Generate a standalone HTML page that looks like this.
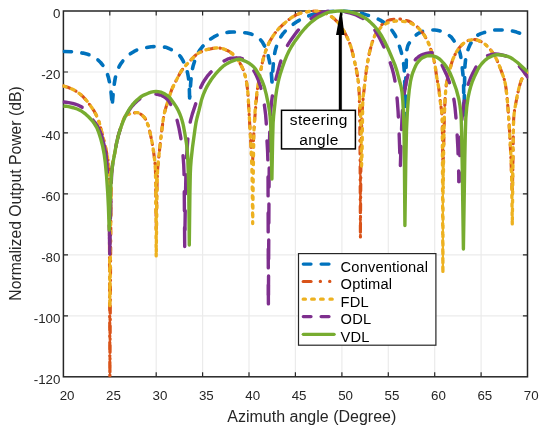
<!DOCTYPE html>
<html lang="en"><head><meta charset="utf-8"><title>Normalized Output Power vs Azimuth angle</title>
<style>html,body{margin:0;padding:0;background:#fff}body{width:550px;height:436px;overflow:hidden}svg{display:block}text{font-family:"Liberation Sans",sans-serif;fill:#262626}</style></head><body>
<svg width="550" height="436" viewBox="0 0 550 436">
<rect width="550" height="436" fill="#fff"/>
<path d="M109.8,11.0V376.8M156.2,11.0V376.8M202.6,11.0V376.8M249.0,11.0V376.8M295.4,11.0V376.8M341.9,11.0V376.8M388.3,11.0V376.8M434.7,11.0V376.8M481.1,11.0V376.8M63.4,72.0H527.5M63.4,132.9H527.5M63.4,193.9H527.5M63.4,254.9H527.5M63.4,315.8H527.5" stroke="#ebebeb" stroke-width="1.2" fill="none"/>
<path d="M109.8,376.8v-4.6M109.8,11.0v4.6M156.2,376.8v-4.6M156.2,11.0v4.6M202.6,376.8v-4.6M202.6,11.0v4.6M249.0,376.8v-4.6M249.0,11.0v4.6M295.4,376.8v-4.6M295.4,11.0v4.6M341.9,376.8v-4.6M341.9,11.0v4.6M388.3,376.8v-4.6M388.3,11.0v4.6M434.7,376.8v-4.6M434.7,11.0v4.6M481.1,376.8v-4.6M481.1,11.0v4.6M63.4,72.0h4.6M527.5,72.0h-4.6M63.4,132.9h4.6M527.5,132.9h-4.6M63.4,193.9h4.6M527.5,193.9h-4.6M63.4,254.9h4.6M527.5,254.9h-4.6M63.4,315.8h4.6M527.5,315.8h-4.6" stroke="#262626" stroke-width="1.2" fill="none"/>
<rect x="63.4" y="11.0" width="464.1" height="365.8" fill="none" stroke="#262626" stroke-width="1.5"/>
<defs><clipPath id="c"><rect x="62.6" y="9.3" width="465.7" height="368.2"/></clipPath></defs>
<g clip-path="url(#c)" fill="none" stroke-linejoin="round">
<path d="M63.4,51.4 L72.0,51.8 L77.9,52.3 L83.0,53.1 L87.7,54.3 L91.0,55.4 L93.9,57.0 L98.0,60.0 L100.6,62.5 L103.1,65.6 L105.2,69.1 L106.9,72.8 L108.4,77.4 L109.6,82.6 L110.8,90.0 L111.4,95.4 L112.2,105.0" stroke="#0072BD" stroke-width="3.6" stroke-dasharray="7.4 10.4" stroke-dashoffset="17.1" stroke-linecap="round"/>
<path d="M112.2,105.0 L113.5,90.0 L114.4,83.1 L115.3,77.9 L116.5,73.4 L117.9,69.3 L119.3,66.2 L121.1,63.3 L123.8,59.7 L126.8,56.5 L129.8,54.1 L134.1,51.4 L137.0,50.0 L139.8,49.1 L146.3,47.5 L151.2,46.7 L154.9,46.6 L161.1,46.8 L164.6,47.1 L166.8,47.6 L168.9,48.5 L172.1,50.1 L175.2,51.8 L178.3,54.3 L179.8,55.8 L180.8,57.0 L182.8,60.2 L185.0,65.0 L186.6,69.3 L187.7,73.5 L188.5,78.0 L189.0,82.7 L189.3,87.0 L189.6,98.0" stroke="#0072BD" stroke-width="3.6" stroke-dasharray="7.4 10.4" stroke-dashoffset="14.8" stroke-linecap="round"/>
<path d="M189.6,98.0 L190.8,81.6 L191.5,74.6 L192.1,70.4 L193.1,66.0 L194.6,61.2 L196.3,56.6 L197.9,53.2 L200.0,49.8 L202.5,46.6 L206.4,42.5 L209.9,39.4 L213.8,36.9 L217.9,34.8 L220.9,33.7 L224.8,32.8 L229.2,32.1 L233.0,32.0 L241.3,32.4 L244.8,32.7 L247.2,33.0 L251.1,34.0 L254.8,35.4 L256.1,36.1 L257.8,37.3 L260.4,39.6 L262.4,42.1 L264.3,45.5 L266.5,50.5 L268.2,55.7 L269.5,61.4 L270.7,68.2 L271.4,74.0 L272.0,82.0" stroke="#0072BD" stroke-width="3.6" stroke-dasharray="7.4 10.4" stroke-dashoffset="6.0" stroke-linecap="round"/>
<path d="M272.0,82.0 L272.9,69.3 L273.9,57.7 L274.5,54.1 L275.2,50.8 L276.0,47.9 L277.0,45.0 L278.3,41.7 L279.7,38.8 L281.2,36.2 L282.8,33.9 L284.6,31.8 L286.7,29.7 L290.3,26.5 L293.0,24.4 L296.0,22.3 L299.1,20.4 L302.8,18.3 L306.2,16.7 L310.3,15.2 L314.1,13.9 L317.0,13.2 L320.6,12.6 L325.1,11.9 L329.4,11.5 L336.9,11.1 L342.1,11.0 L346.6,11.3 L353.9,12.0 L358.5,12.7 L362.3,13.5 L367.3,15.1 L376.2,18.2 L380.2,20.1 L383.4,22.1 L385.5,23.8 L387.6,25.6 L389.5,27.5 L391.2,29.4 L392.9,31.7 L394.4,34.0 L395.5,35.9 L396.5,38.2 L399.7,47.0 L401.3,52.2 L402.9,59.0 L403.8,65.1 L404.4,72.4 L404.8,85.0 L405.0,117.0" stroke="#0072BD" stroke-width="3.6" stroke-dasharray="7.4 10.4" stroke-dashoffset="7.0" stroke-linecap="round"/>
<path d="M405.0,117.0 L405.7,80.6 L406.3,61.5 L406.9,49.7 L407.7,46.2 L408.2,44.9 L408.8,43.8 L412.5,38.4 L414.9,35.9 L417.8,33.8 L420.7,32.1 L423.2,31.2 L428.1,30.4 L432.6,30.0 L434.8,30.0 L436.9,30.2 L439.3,30.7 L442.5,31.5 L444.0,32.1 L445.5,32.9 L448.8,35.1 L450.3,36.3 L451.3,37.2 L453.7,40.3 L457.3,46.2 L458.3,48.2 L459.1,50.2 L460.2,53.8 L461.0,58.0 L462.0,65.4 L463.1,75.7 L463.6,85.0 L464.0,115.0" stroke="#0072BD" stroke-width="3.6" stroke-dasharray="7.4 10.4" stroke-dashoffset="3.9" stroke-linecap="round"/>
<path d="M464.0,115.0 L464.8,69.6 L465.0,65.0 L465.5,60.2 L465.9,57.5 L466.5,54.8 L467.7,50.6 L468.8,47.5 L469.8,45.2 L470.8,43.3 L472.4,40.8 L474.0,38.7 L475.6,36.9 L477.1,35.6 L478.7,34.6 L480.8,33.6 L483.9,32.6 L490.4,30.8 L493.1,30.2 L495.4,30.0 L506.4,30.0 L509.9,30.4 L516.5,32.1 L519.2,33.0 L523.4,34.6 L527.5,36.5" stroke="#0072BD" stroke-width="3.6" stroke-dasharray="7.4 10.4" stroke-dashoffset="5.5" stroke-linecap="round"/>
<path d="M63.4,86.0 L67.7,87.2 L72.8,89.4 L76.5,91.5 L80.3,94.2 L83.5,97.2 L86.8,100.9 L90.8,106.1 L93.8,110.6 L95.7,114.0 L97.4,117.6 L98.6,120.6 L99.7,124.1 L105.2,145.8 L106.2,150.5 L107.9,159.8 L108.4,163.6 L108.8,168.6 L109.0,172.0 L109.1,177.6 L109.4,230.5 L109.9,376.8 L110.8,228.5 L111.1,193.9 L111.4,174.4 L111.8,168.7 L112.6,162.8 L114.2,156.0 L116.9,141.4 L118.2,136.1 L119.5,131.6 L122.9,121.1 L123.8,118.8 L124.7,116.9 L125.4,115.9 L126.0,115.3 L127.5,114.5 L129.3,114.0 L133.5,113.0 L136.2,112.6 L137.9,112.7 L139.6,113.4 L141.9,115.0 L144.5,117.6 L146.0,120.1 L147.7,124.2 L148.6,126.8 L149.6,130.6 L152.1,142.5 L153.6,151.9 L154.6,159.6 L155.0,163.6 L155.4,169.9 L155.6,175.5 L156.2,228.7 L157.1,183.3 L157.4,174.1 L157.8,167.2 L159.8,147.3 L162.1,127.9 L163.4,118.4 L164.5,112.7 L166.1,106.9 L170.1,94.3 L171.7,89.7 L174.0,84.6 L180.1,73.1 L182.2,69.7 L185.2,66.0 L194.2,56.5 L197.1,54.0 L199.5,52.6 L202.4,51.1 L205.0,50.1 L207.5,49.4 L212.5,48.4 L216.0,48.0 L218.9,47.9 L221.5,48.4 L224.4,49.3 L228.4,51.0 L230.1,52.0 L232.0,53.4 L234.7,56.0 L237.1,58.7 L239.0,61.5 L241.0,65.0 L243.3,69.9 L245.1,75.4 L246.3,80.8 L247.4,88.2 L247.8,92.1 L248.3,99.3 L251.4,154.0 L251.9,158.7 L252.3,159.6 L252.7,160.0 L253.7,135.5 L254.8,118.0 L256.4,98.8 L257.3,90.4 L258.2,83.6 L259.8,74.6 L262.4,62.4 L263.7,57.0 L265.2,52.3 L266.9,47.7 L268.6,43.8 L270.4,40.3 L272.9,36.1 L275.7,32.3 L278.9,28.5 L282.2,25.3 L288.6,19.9 L292.0,17.3 L293.5,16.4 L295.7,15.2 L300.0,13.3 L303.4,12.3 L309.3,11.3 L313.4,11.0 L316.9,11.2 L321.1,11.9 L325.4,13.1 L328.3,14.5 L332.1,17.1 L334.3,18.8 L336.6,21.1 L339.0,23.8 L341.1,26.5 L343.0,29.5 L345.0,33.1 L347.2,37.4 L348.9,41.3 L351.1,47.3 L352.6,53.0 L356.1,68.1 L358.2,80.2 L358.8,86.2 L359.2,93.2 L359.8,122.4 L360.1,160.4 L360.4,237.6 L360.9,165.0 L361.2,140.0 L362.0,115.2 L362.5,106.5 L363.2,97.8 L365.5,76.9 L366.6,68.6 L368.4,57.7 L370.0,50.2 L372.4,41.9 L373.7,38.3 L374.9,35.4 L376.9,31.7 L378.9,28.4 L380.5,26.2 L381.9,24.7 L385.1,22.2 L387.8,20.6 L389.8,19.9 L393.9,19.2 L397.4,18.9 L400.3,19.1 L403.9,19.8 L408.3,21.0 L411.3,22.5 L415.1,25.1 L417.3,26.9 L419.6,29.2 L422.2,32.3 L424.3,35.2 L426.5,39.0 L428.5,43.1 L430.4,48.0 L432.4,54.3 L433.8,59.5 L435.0,65.0 L436.9,78.4 L438.8,88.3 L440.6,103.9 L441.5,110.3 L441.9,114.5 L442.3,121.0 L442.8,162.0 L442.9,165.0 L443.1,164.0 L443.3,157.7 L443.7,146.7 L444.5,112.0 L445.1,99.0 L445.7,89.9 L446.3,84.8 L447.2,79.9 L451.4,63.8 L452.4,60.6 L453.3,58.3 L454.7,55.2 L456.1,52.5 L457.6,50.1 L459.6,47.4 L461.4,45.3 L463.0,43.8 L465.3,42.1 L467.3,40.9 L468.7,40.4 L471.2,39.8 L473.2,39.5 L474.9,39.6 L476.7,39.9 L478.8,40.7 L481.4,41.8 L482.7,42.5 L484.4,43.7 L486.3,45.3 L488.7,47.7 L490.3,49.5 L492.1,51.9 L493.9,54.6 L496.6,59.4 L499.2,65.4 L503.5,76.9 L504.4,79.9 L505.2,83.2 L506.1,88.8 L507.1,97.7 L508.1,109.5 L509.2,125.3 L510.6,151.3 L512.3,193.0 L512.8,172.0 L513.5,122.9 L513.7,118.5 L514.3,112.0 L514.8,108.7 L517.6,93.9 L519.2,87.1 L520.7,81.8 L521.9,78.9 L523.6,76.0 L525.6,73.7 L526.6,72.9 L527.5,72.3" stroke="#D95319" stroke-width="3.1" stroke-dasharray="7 6 0.6 6" stroke-linecap="round"/>
<path d="M109.9,300V376.8M360.4,160V237.6" stroke="#D95319" stroke-width="2.4" stroke-dasharray="9 1.6 3 1.2" fill="none"/>
<path d="M63.4,86.0 L67.5,87.2 L72.5,89.2 L75.9,91.1 L79.4,93.5 L82.3,96.0 L85.4,99.2 L88.7,103.3 L92.1,108.0 L94.1,111.1 L95.9,114.4 L97.6,118.1 L98.8,121.2 L100.9,128.5 L105.8,148.5 L108.1,161.2 L108.6,166.0 L109.0,172.0 L109.4,211.5 L109.9,307.5 L110.9,201.8 L111.2,181.7 L111.5,172.0 L112.0,167.0 L112.6,162.9 L114.2,156.1 L116.3,144.4 L117.7,138.1 L119.4,131.9 L122.7,121.7 L124.2,117.9 L124.9,116.6 L125.5,115.7 L126.7,114.9 L128.5,114.2 L132.8,113.1 L135.4,112.7 L137.1,112.6 L138.1,112.7 L139.4,113.3 L140.7,114.1 L142.3,115.4 L144.2,117.2 L145.0,118.3 L145.9,119.9 L147.2,122.9 L148.4,126.2 L149.3,129.4 L150.3,133.7 L152.1,142.5 L153.4,150.5 L154.8,161.2 L155.4,169.8 L155.7,184.8 L156.2,256.7 L157.0,193.0 L157.3,177.9 L157.6,170.1 L158.2,162.2 L160.7,139.5 L163.0,121.0 L163.7,116.6 L164.5,112.7 L166.2,106.6 L170.2,94.0 L171.9,89.2 L174.4,83.9 L179.7,73.8 L181.5,70.7 L183.4,68.1 L185.6,65.6 L193.8,57.0 L195.8,55.0 L197.5,53.7 L199.6,52.5 L202.3,51.2 L204.9,50.2 L207.6,49.4 L212.8,48.4 L216.0,48.0 L218.7,47.9 L220.9,48.2 L223.4,48.9 L228.0,50.8 L229.6,51.7 L231.8,53.3 L234.3,55.6 L236.6,58.1 L238.5,60.7 L240.5,64.1 L242.6,68.3 L243.9,71.5 L245.1,75.4 L245.9,78.7 L246.7,83.1 L247.5,89.0 L247.9,93.2 L248.6,103.7 L251.2,150.4 L251.7,162.4 L252.1,176.4 L252.7,223.6 L253.5,154.8 L253.8,136.9 L254.1,127.8 L255.0,111.8 L256.0,100.0 L256.8,93.3 L258.2,83.6 L259.5,76.1 L262.6,61.5 L264.1,55.7 L265.7,50.9 L267.3,46.7 L269.0,42.9 L270.8,39.6 L272.8,36.3 L275.0,33.2 L277.4,30.2 L279.9,27.5 L283.3,24.3 L288.7,19.8 L291.5,17.6 L293.8,16.2 L298.2,14.1 L301.8,12.7 L305.9,11.9 L310.8,11.2 L314.3,11.0 L317.5,11.2 L322.0,12.1 L324.3,12.7 L325.7,13.2 L328.7,14.8 L332.8,17.6 L335.5,20.0 L338.3,22.9 L340.7,25.9 L342.8,29.1 L345.3,33.6 L347.9,39.0 L349.4,42.5 L350.8,46.4 L351.7,49.4 L352.7,53.4 L356.4,69.7 L357.6,76.8 L358.5,83.8 L359.7,98.2 L360.6,117.3 L361.1,134.7 L361.5,166.0 L361.8,161.3 L362.1,149.7 L362.7,103.6 L363.0,98.5 L363.4,94.5 L364.1,89.9 L365.6,76.1 L366.6,68.6 L368.2,58.7 L369.8,51.0 L372.1,42.6 L373.1,39.6 L374.1,37.2 L374.9,35.7 L378.1,30.9 L380.7,27.5 L381.9,26.4 L384.2,24.7 L386.2,23.6 L388.1,22.7 L389.8,22.2 L393.1,21.5 L395.4,21.1 L397.5,20.9 L401.0,21.1 L405.1,21.6 L408.1,22.2 L410.6,23.1 L413.8,24.8 L416.6,26.6 L419.1,28.8 L421.8,31.8 L423.7,34.3 L425.6,37.3 L427.7,41.4 L429.2,44.8 L430.9,49.5 L432.8,55.7 L434.0,60.3 L435.1,65.5 L436.9,78.4 L438.4,85.8 L439.0,89.8 L440.6,103.9 L441.6,110.5 L442.0,115.3 L442.3,121.0 L442.9,273.5 L443.1,164.0 L443.3,188.2 L443.7,143.4 L444.4,114.6 L445.1,99.0 L445.8,88.8 L446.5,83.5 L447.4,79.0 L451.2,64.5 L452.2,61.2 L453.1,58.8 L455.4,53.8 L456.7,51.5 L458.0,49.6 L459.8,47.2 L461.4,45.3 L462.9,43.8 L464.5,42.6 L466.8,41.2 L468.8,40.4 L472.5,39.6 L473.9,39.5 L475.1,39.6 L477.9,40.3 L481.9,42.0 L484.1,43.5 L486.6,45.6 L489.3,48.4 L491.5,51.1 L493.9,54.6 L496.2,58.6 L497.9,62.2 L499.9,67.2 L503.2,76.1 L504.5,80.3 L505.3,83.7 L505.9,87.3 L507.3,99.8 L508.7,117.7 L510.5,146.4 L511.1,159.8 L511.6,176.0 L512.3,224.9 L513.3,132.5 L513.6,120.0 L514.1,113.8 L514.7,109.3 L517.4,94.9 L518.8,88.7 L520.6,82.1 L521.8,79.1 L523.6,76.0 L525.6,73.7 L526.6,72.9 L527.5,72.3" stroke="#EDB120" stroke-width="3.3" stroke-dasharray="2.7 6.0" stroke-linecap="round"/>
<path d="M156.2,172V252M442.9,168V270M512.3,172V196M109.9,256V305" stroke="#EDB120" stroke-width="2.2" fill="none"/>
<path d="M63.4,102.0 L65.9,102.2 L68.7,102.6 L72.6,103.3 L75.2,104.1 L77.8,105.0 L80.3,106.2 L83.1,107.9 L84.4,108.9 L85.8,110.4 L87.4,112.4 L94.8,122.5 L96.9,125.7 L98.4,128.4 L99.8,131.4 L101.1,134.7 L102.4,138.7 L103.4,142.2 L104.3,145.9 L105.8,154.4 L106.9,164.6 L108.2,181.6 L108.7,191.5 L109.1,204.2 L109.7,254.0" stroke="#7E2F8E" stroke-width="3.4" stroke-dasharray="19.0 17.0" stroke-dashoffset="35.3" stroke-linecap="round"/>
<path d="M109.7,254.0 L110.8,199.9 L111.3,182.2 L111.7,173.3 L112.3,167.1 L113.0,162.2 L116.4,143.8 L118.4,135.3 L119.6,131.2 L121.2,126.6 L122.9,122.1 L124.5,118.5 L126.0,115.5 L128.3,111.5 L130.3,108.5 L132.2,106.0 L134.0,104.0 L137.2,101.0 L139.5,99.1 L141.7,97.6 L143.7,96.6 L147.7,95.2 L150.3,94.5 L152.6,94.1 L154.5,94.0 L156.5,94.2 L160.0,95.0 L161.6,95.5 L163.3,96.4 L165.1,97.5 L167.0,99.1 L168.5,100.6 L169.7,102.5 L171.9,106.8 L173.4,110.0 L174.8,113.5 L177.2,120.7 L179.0,128.1 L180.6,136.6 L182.0,145.7 L182.9,153.9 L183.7,164.5 L184.0,172.0 L184.2,184.0 L184.7,246.5" stroke="#7E2F8E" stroke-width="3.4" stroke-dasharray="19.0 17.0" stroke-dashoffset="0.5" stroke-linecap="round"/>
<path d="M184.7,246.5 L185.4,198.9 L185.9,175.1 L186.8,153.6 L187.9,138.0 L189.1,128.0 L189.8,124.0 L190.7,119.9 L192.3,114.1 L195.9,103.3 L199.2,91.3 L200.6,87.6 L202.6,83.4 L204.7,79.9 L207.3,76.2 L209.8,73.3 L212.9,70.1 L217.9,65.4 L221.4,62.6 L223.5,61.3 L227.5,59.2 L229.4,58.5 L231.1,58.1 L240.5,58.0 L242.1,58.5 L244.0,59.7 L248.2,63.1 L249.7,64.7 L251.3,66.8 L253.3,69.9 L255.1,72.9 L256.6,76.0 L258.0,79.3 L260.4,86.3 L262.2,93.5 L263.3,99.0 L264.5,106.0 L265.6,114.5 L266.2,122.1 L267.0,141.0 L267.6,151.4 L268.0,165.0 L268.4,306.0" stroke="#7E2F8E" stroke-width="3.4" stroke-dasharray="19.0 17.0" stroke-dashoffset="19.3" stroke-linecap="round"/>
<path d="M268.4,306.0 L269.0,192.8 L269.4,145.1 L269.7,133.5 L270.3,118.7 L270.9,109.0 L271.6,101.7 L272.3,96.2 L273.1,91.3 L275.7,79.8 L280.0,63.6 L282.4,56.6 L284.0,52.7 L285.6,49.2 L287.3,45.8 L289.0,42.9 L291.3,39.4 L295.4,33.7 L297.6,30.9 L299.9,28.4 L304.7,23.7 L309.7,19.6 L314.0,16.6 L319.0,13.8 L323.9,12.1 L327.9,11.2 L331.3,10.9 L338.3,10.8 L340.3,10.9 L342.7,11.3 L347.3,12.3 L350.5,13.1 L356.0,15.0 L361.4,17.6 L364.9,19.6 L367.6,21.8 L370.9,25.2 L374.7,29.9 L377.4,34.1 L380.3,39.4 L384.4,47.9 L387.2,54.3 L389.4,60.2 L392.2,68.8 L393.6,74.1 L394.8,79.9 L395.7,85.5 L396.5,92.3 L397.3,100.9 L398.1,111.5 L399.1,132.5 L400.3,167.6" stroke="#7E2F8E" stroke-width="3.4" stroke-dasharray="19.0 17.0" stroke-dashoffset="24.9" stroke-linecap="round"/>
<path d="M400.3,167.6 L401.6,127.6 L402.1,116.4 L402.6,108.7 L403.5,99.4 L404.5,92.1 L406.1,82.9 L407.7,76.0 L410.0,69.0 L412.1,64.0 L413.7,61.4 L416.4,58.5 L418.0,57.2 L419.7,56.0 L421.4,55.0 L423.1,54.3 L426.3,53.4 L429.0,52.9 L431.5,52.6 L433.0,52.7 L434.7,53.4 L436.7,54.8 L438.2,56.2 L439.2,57.9 L441.9,64.8 L446.3,74.2 L448.4,79.3 L451.3,87.9 L452.3,91.7 L453.2,95.7 L454.3,101.9 L455.1,108.3 L456.0,118.0 L456.8,128.8 L457.9,148.4 L459.0,181.6" stroke="#7E2F8E" stroke-width="3.4" stroke-dasharray="19.0 17.0" stroke-dashoffset="33.9" stroke-linecap="round"/>
<path d="M459.0,181.6 L460.1,148.5 L460.9,131.4 L461.6,122.6 L462.4,114.6 L463.2,108.2 L464.2,101.7 L465.3,95.7 L466.5,90.3 L467.7,85.9 L469.3,81.3 L471.0,77.0 L473.0,72.7 L477.7,63.8 L479.3,61.1 L480.2,59.8 L481.0,59.0 L482.6,57.7 L484.2,56.8 L485.5,56.2 L487.3,55.6 L491.9,54.4 L495.1,54.0 L498.2,54.1 L501.7,54.8 L506.0,56.0 L507.5,56.7 L509.2,57.8 L514.8,62.2 L517.8,64.8 L520.2,67.3 L522.6,70.2 L525.0,73.4 L527.5,77.0" stroke="#7E2F8E" stroke-width="3.4" stroke-dasharray="19.0 17.0" stroke-dashoffset="10.0" stroke-linecap="round"/>
<path d="M94.8,122.5 L96.9,125.7 L98.4,128.4 L99.8,131.4 L101.1,134.7 L102.4,138.7 L103.4,142.2 L104.3,145.9 L105.8,154.4 L106.9,164.6" stroke="#7E2F8E" stroke-width="3.4" stroke-linecap="round"/>
<path d="M63.4,106.0 L65.8,106.2 L68.5,106.7 L72.3,107.5 L74.6,108.1 L77.2,109.0 L79.8,110.2 L81.5,111.1 L83.3,112.3 L85.7,114.2 L88.5,116.8 L90.9,119.3 L92.8,121.5 L94.6,124.0 L96.3,126.8 L97.3,128.8 L98.4,131.6 L100.8,139.0 L102.7,146.4 L104.3,155.0 L105.3,162.8 L106.6,176.7 L107.7,192.6 L108.4,206.7 L109.2,230.0 L109.9,207.7 L110.7,188.6 L111.4,175.7 L112.0,169.2 L112.9,163.0 L116.8,141.9 L118.9,133.6 L121.3,126.2 L123.0,121.6 L124.7,117.7 L126.3,114.4 L128.5,110.5 L130.5,107.4 L132.5,104.7 L134.2,102.8 L137.0,100.0 L139.7,97.7 L142.1,96.0 L143.8,95.1 L148.3,93.2 L151.2,92.2 L153.8,91.6 L156.1,91.4 L158.3,91.6 L160.9,92.2 L163.0,93.0 L165.4,94.3 L168.0,96.0 L169.0,96.9 L170.1,98.1 L173.7,103.0 L175.5,105.6 L177.0,108.1 L178.4,110.8 L179.7,113.7 L180.9,116.8 L182.1,120.6 L182.9,123.5 L183.7,127.2 L184.8,133.2 L186.5,143.7 L187.2,150.0 L187.7,157.1 L188.4,177.3 L188.8,194.1 L189.3,245.0 L189.9,193.7 L190.3,173.8 L190.6,167.1 L191.2,159.2 L192.5,147.3 L195.0,129.0 L196.1,122.1 L197.0,118.0 L199.0,110.4 L201.4,100.3 L203.3,94.6 L205.5,89.5 L207.1,86.4 L208.9,83.3 L211.0,80.0 L213.1,77.1 L215.4,74.2 L218.6,70.6 L220.9,68.2 L222.9,66.4 L225.8,64.4 L228.7,62.7 L230.8,61.7 L235.5,59.9 L237.3,59.4 L238.9,59.3 L240.6,59.5 L242.6,60.1 L246.5,61.8 L248.7,62.9 L251.3,64.8 L253.8,67.0 L255.6,69.2 L257.6,72.4 L260.2,77.0 L262.0,80.7 L264.3,86.8 L266.2,94.2 L268.6,105.7 L269.6,112.3 L270.1,116.5 L270.6,123.0 L270.8,128.3 L271.9,179.0 L272.6,140.6 L273.1,123.0 L273.6,116.1 L275.7,96.4 L276.7,89.8 L277.7,84.4 L278.8,79.4 L280.1,74.6 L282.2,67.9 L284.3,61.9 L286.7,55.9 L289.0,51.0 L291.8,46.0 L295.1,40.9 L300.4,33.7 L304.8,28.5 L308.2,24.9 L311.3,22.1 L315.5,18.9 L319.4,16.4 L324.8,13.7 L328.2,12.3 L331.1,11.7 L337.3,11.0 L341.6,10.8 L345.6,11.1 L350.7,12.1 L356.4,13.6 L359.6,14.9 L363.2,16.9 L367.0,19.3 L369.8,21.6 L373.0,24.7 L376.3,28.4 L379.0,32.0 L381.8,36.3 L384.4,41.0 L388.2,49.0 L390.8,55.0 L394.8,64.6 L396.8,70.6 L401.0,86.2 L402.1,92.8 L402.8,100.7 L403.4,112.3 L404.0,130.0 L404.4,161.1 L404.9,225.6 L405.8,161.2 L406.5,130.0 L407.3,113.0 L408.1,101.3 L409.2,90.3 L410.4,82.0 L411.1,78.6 L412.1,74.8 L413.1,71.8 L414.4,68.6 L415.8,65.5 L417.1,63.2 L418.1,61.9 L420.0,59.8 L421.7,58.3 L423.3,57.3 L426.1,56.2 L428.3,55.7 L430.0,55.5 L431.7,55.7 L433.6,56.1 L435.9,56.9 L437.8,57.8 L439.5,59.0 L441.4,60.8 L444.0,63.6 L445.5,65.5 L447.0,67.7 L450.1,73.2 L452.3,78.4 L456.3,89.5 L458.7,98.5 L459.9,105.1 L460.6,110.9 L461.1,116.4 L461.6,131.3 L462.3,169.3 L463.4,249.0 L464.8,158.0 L465.3,133.9 L465.8,118.3 L466.7,107.6 L468.0,97.9 L469.5,91.0 L470.9,85.9 L472.1,82.2 L474.1,77.3 L477.6,70.0 L479.8,66.2 L481.9,63.5 L484.9,60.3 L487.5,58.3 L492.1,56.0 L493.8,55.4 L495.4,55.0 L496.7,54.8 L498.2,54.8 L502.3,55.2 L507.6,56.4 L510.0,57.3 L512.8,59.0 L517.5,62.5 L527.5,71.7" stroke="#77AC30" stroke-width="3.4"/>
</g>
<path d="M340.3,110V33" stroke="#000" stroke-width="3" fill="none"/>
<path d="M340.7,12L341.8,13L344.4,34.9H336L340,13z" fill="#000"/>
<rect x="281.5" y="110.3" width="73.9" height="38.6" fill="#fff" stroke="#000" stroke-width="1.5"/>
<text x="318.8" y="124.7" font-size="15.5" letter-spacing="0.35" text-anchor="middle" style="fill:#000">steering</text>
<text x="319" y="145.2" font-size="15.5" letter-spacing="0.35" text-anchor="middle" style="fill:#000">angle</text>
<rect x="298.5" y="253.6" width="137.4" height="91.6" fill="#fff" stroke="#262626" stroke-width="1.2"/>
<g fill="none" stroke-width="3.3" stroke-linecap="round">
<path d="M303.3,264.1h7.7M321.1,264.1h7.9" stroke="#0072BD"/>
<path d="M303.1,281.4h8" stroke="#D95319" stroke-width="3"/><path d="M320.3,281.4h0.1M329.7,281.4h0.1" stroke="#D95319" stroke-width="3.3"/>
<path d="M303.2,299.2h2.2M311.7,299.2h2.6M320.6,299.2h2.6M330,299.2h2.2" stroke="#EDB120"/>
<path d="M303.3,316.6h7.7M321.1,316.6h7.9" stroke="#7E2F8E"/>
<path d="M303.3,334.3h30.8" stroke="#77AC30"/>
</g>
<text x="340.6" y="272.0" font-size="14.67" letter-spacing="0.16" style="fill:#000">Conventional</text>
<text x="340.6" y="289.3" font-size="14.67" letter-spacing="0.16" style="fill:#000">Optimal</text>
<text x="340.6" y="306.8" font-size="14.67" letter-spacing="0.16" style="fill:#000">FDL</text>
<text x="340.6" y="324.4" font-size="14.67" letter-spacing="0.16" style="fill:#000">ODL</text>
<text x="340.6" y="341.9" font-size="14.67" letter-spacing="0.16" style="fill:#000">VDL</text>
<text x="67.1" y="399.7" font-size="13.33" text-anchor="middle">20</text>
<text x="113.5" y="399.7" font-size="13.33" text-anchor="middle">25</text>
<text x="159.9" y="399.7" font-size="13.33" text-anchor="middle">30</text>
<text x="206.3" y="399.7" font-size="13.33" text-anchor="middle">35</text>
<text x="252.7" y="399.7" font-size="13.33" text-anchor="middle">40</text>
<text x="299.1" y="399.7" font-size="13.33" text-anchor="middle">45</text>
<text x="345.6" y="399.7" font-size="13.33" text-anchor="middle">50</text>
<text x="392.0" y="399.7" font-size="13.33" text-anchor="middle">55</text>
<text x="438.4" y="399.7" font-size="13.33" text-anchor="middle">60</text>
<text x="484.8" y="399.7" font-size="13.33" text-anchor="middle">65</text>
<text x="531.2" y="399.7" font-size="13.33" text-anchor="middle">70</text>
<text x="60.4" y="18.0" font-size="13.33" text-anchor="end">0</text>
<text x="60.4" y="79.1" font-size="13.33" text-anchor="end">-20</text>
<text x="60.4" y="140.1" font-size="13.33" text-anchor="end">-40</text>
<text x="60.4" y="201.2" font-size="13.33" text-anchor="end">-60</text>
<text x="60.4" y="262.3" font-size="13.33" text-anchor="end">-80</text>
<text x="60.4" y="323.3" font-size="13.33" text-anchor="end">-100</text>
<text x="60.4" y="384.4" font-size="13.33" text-anchor="end">-120</text>
<text x="311.8" y="422.2" font-size="16" text-anchor="middle">Azimuth angle (Degree)</text>
<text transform="translate(21,193.5) rotate(-90)" font-size="15.75" text-anchor="middle">Normalized Output Power (dB)</text>
</svg></body></html>
